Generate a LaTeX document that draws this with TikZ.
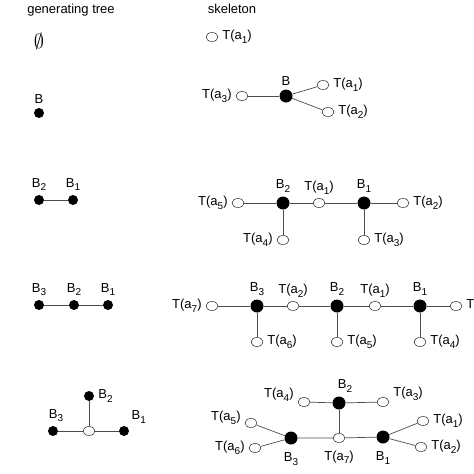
\documentclass[tikz,border=0pt]{standalone}
\usepackage{amssymb}
\usepackage{fontspec}
\setmainfont{Liberation Sans}
\usepackage{tikz}
\usetikzlibrary{shapes.geometric,positioning}

\newcommand{\idx}[1]{\raisebox{-0.5ex}{\fontsize{10}{10}\selectfont #1}}
\newcommand{\Ta}[1]{T(a\idx{#1})}
\newcommand{\Bb}[1]{B\idx{#1}}

\begin{document}
\begin{tikzpicture}
[x=1pt,y=-1pt,
every node/.style={font=\fontsize{13}{15}\selectfont},
every label/.style={inner sep=3pt},
label distance=1pt,
bullet/.style={circle,fill=black,inner sep=0pt,minimum size=10pt},
big/.style={circle,fill=black,inner sep=0pt,minimum size=13pt},
hollow/.style={ellipse,draw=black,fill=white,inner sep=0pt,minimum width=12pt,minimum height=9pt},
edge/.style={draw=black!70,line width=0.7pt}]

\clip (0,0) rectangle (474,474);

\node (gt) at (71,10) {generating tree};
\node (sk) at (232,9) {skeleton};

\node (E) at (39,41) {\scalebox{1.7}{$\emptyset$}};
\node[hollow] (11) at (212,37) [label=right:\Ta{1}] {};

\node[bullet] (B) at (39,113) [label=above:B] {};

\node[big] (2B) at (286,96) [label=above:B] {};
\node[hollow] (23) at (242,96) [label=left:\Ta{3}] {};
\node[hollow] (21) at (323,85) [label=right:\Ta{1}] {};
\node[hollow] (22) at (328,112) [label=right:\Ta{2}] {};

\draw[edge] (23) -- (2B);
\draw[edge] (2B) -- (21);
\draw[edge] (2B) -- (22);

\node[bullet] (3B2) at (39,200) [label=above:\Bb{2}] {};
\node[bullet] (3B1) at (73,200) [label=above:\Bb{1}] {};
\draw[edge] (3B2) -- (3B1);

\node[hollow] (35) at (238,203) [label=left:\Ta{5}] {};
\node[big] (3S2) at (283,203) [label=above:\Bb{2}] {};
\node[hollow] (31) at (319,203) [label=above:\Ta{1}] {};
\node[big] (3S1) at (364,203) [label=above:\Bb{1}] {};
\node[hollow] (32) at (403,203) [label=right:\Ta{2}] {};
\node[hollow] (34) at (283,240) [label=left:\Ta{4}] {};
\node[hollow] (33) at (364,240) [label=right:\Ta{3}] {};

\draw[edge] (35) -- (3S2) -- (31) -- (3S1) -- (32);
\draw[edge] (3S2) -- (34);
\draw[edge] (3S1) -- (33);

\node[bullet] (4B3) at (39,305) [label=above:\Bb{3}] {};
\node[bullet] (4B2) at (74,305) [label=above:\Bb{2}] {};
\node[bullet] (4B1) at (108,305) [label=above:\Bb{1}] {};
\draw[edge] (4B3) -- (4B2) -- (4B1);

\node[hollow] (47) at (212,306) [label=left:\Ta{7}] {};
\node[big] (4S3) at (257,306) [label=above:\Bb{3}] {};
\node[hollow] (42) at (293,306) [label=above:\Ta{2}] {};
\node[big] (4S2) at (337,306) [label=above:\Bb{2}] {};
\node[hollow] (41) at (375,306) [label=above:\Ta{1}] {};
\node[big] (4S1) at (420,306) [label=above:\Bb{1}] {};
\node[hollow] (43) at (456,306) [label=right:\Ta{3}] {};
\node[hollow] (46) at (257,342) [label=right:\Ta{6}] {};
\node[hollow] (45) at (337,342) [label=right:\Ta{5}] {};
\node[hollow] (44) at (420,342) [label=right:\Ta{4}] {};

\draw[edge] (47) -- (4S3) -- (42) -- (4S2) -- (41) -- (4S1) -- (43);
\draw[edge] (4S3) -- (46);
\draw[edge] (4S2) -- (45);
\draw[edge] (4S1) -- (44);

\node[bullet] (5B2) at (89,396) [label=right:\Bb{2}] {};
\node[hollow] (5C) at (89,431) {};
\node[bullet] (5B3) at (53,431) [label={[xshift=3pt]above:\Bb{3}}] {};
\node[bullet] (5B1) at (124,431) [label=above right:\Bb{1}] {};
\draw[edge] (5B2) -- (5C);
\draw[edge] (5B3) -- (5C) -- (5B1);

\node[big] (5S2) at (339,403) [label={[xshift=6pt]above:\Bb{2}}] {};
\node[hollow] (54) at (304,402) [label={[yshift=7pt]left:\Ta{4}}] {};
\node[hollow] (53) at (383,402) [label={[yshift=8pt]right:\Ta{3}}] {};
\node[hollow] (57) at (339,438) [label={[yshift=-4pt]below:\Ta{7}}] {};
\node[big] (5S3) at (291,438) [label={[yshift=-4pt]below:\Bb{3}}] {};
\node[big] (5S1) at (383,437) [label={[yshift=-4pt]below:\Bb{1}}] {};
\node[hollow] (55) at (251,423) [label={[yshift=5pt]left:\Ta{5}}] {};
\node[hollow] (56) at (255,448) [label=left:\Ta{6}] {};
\node[hollow] (51) at (423,421) [label=right:\Ta{1}] {};
\node[hollow] (52) at (421,447) [label=right:\Ta{2}] {};

\draw[edge] (54) -- (5S2) -- (53);
\draw[edge] (5S2) -- (57);
\draw[edge] (5S3) -- (57) -- (5S1);
\draw[edge] (55) -- (5S3);
\draw[edge] (56) -- (5S3);
\draw[edge] (5S1) -- (51);
\draw[edge] (5S1) -- (52);
\end{tikzpicture}
\end{document}
